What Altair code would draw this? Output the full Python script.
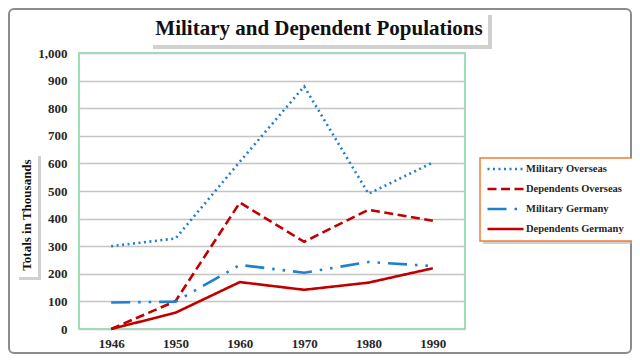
import altair as alt
import pandas as pd

years = ["1946", "1950", "1960", "1970", "1980", "1990"]
series_names = ["Military Overseas", "Dependents Overseas", "Military Germany", "Dependents Germany"]
military_overseas = [300, 328, 606, 879, 490, 603]
dependents_overseas = [0, 101, 458, 316, 432, 392]
military_germany = [96, 99, 232, 204, 243, 228]
dependents_germany = [0, 59, 170, 142, 168, 220]
series_values = [military_overseas, dependents_overseas, military_germany, dependents_germany]
series_colors = ["#1f7fd0", "#c00000", "#1f7fd0", "#c00000"]
series_dashes = [[2, 3.5], [9, 4.5], [19, 8, 2.5, 8, 2.5, 8], [1, 0]]

y_ticks = list(range(0, 1001, 100))

rows = []
for name, vals in zip(series_names, series_values):
    for yr, v in zip(years, vals):
        rows.append({"year": yr, "series": name, "value": v})
df = pd.DataFrame(rows)

FONT = "Liberation Serif"

legend_opts = dict(title=None, symbolType="stroke", symbolSize=1296,
                   symbolStrokeWidth=2.6, orient="none",
                   legendX=407, legendY=109, padding=0,
                   clipHeight=14, rowPadding=6, labelFont=FONT, labelFontSize=10.5,
                   labelFontWeight="bold", labelColor="#262626",
                   labelOffset=1)

lines = alt.Chart(df).mark_line(strokeWidth=2.6).encode(
    x=alt.X("year:O", sort=years, scale=alt.Scale(type="point", padding=0.5),
            axis=alt.Axis(title=None, labelAngle=0, ticks=False, domain=False,
                          labelPadding=8, labelFont=FONT, labelFontSize=13,
                          labelFontWeight="bold", labelColor="#262626")),
    y=alt.Y("value:Q", scale=alt.Scale(domain=[0, 1000], nice=False),
            axis=alt.Axis(title=None, values=y_ticks, format=",.0f", ticks=False, domain=False,
                          labelPadding=12, labelFont=FONT, labelFontSize=13,
                          labelFontWeight="bold", labelColor="#262626",
                          gridColor="#c4c4c4", gridWidth=1.6)),
    color=alt.Color("series:N", sort=series_names,
                    scale=alt.Scale(domain=series_names, range=series_colors),
                    legend=alt.Legend(**legend_opts)),
    strokeDash=alt.StrokeDash("series:N", sort=series_names,
                              scale=alt.Scale(domain=series_names, range=series_dashes),
                              legend=alt.Legend(**legend_opts)),
)

one = alt.Data(values=[{"k": 1}])

def box(x1, x2, y1, y2, **kw):
    return alt.Chart(one).mark_rect(**kw).encode(
        x=alt.value(x1), x2=alt.value(x2), y=alt.value(y1), y2=alt.value(y2))

outer = box(-70, 552, -44, 300, fill="white", fillOpacity=0, stroke="#8c8c8c",
            strokeWidth=2, cornerRadius=5)

title_shadow = box(74, 413, -38, -4, fill="#b0b0b0", opacity=0.6)
title_box = box(71, 409, -41, -8, fill="white")
title_text = alt.Chart(one).mark_text(font=FONT, fontSize=21, fontWeight="bold",
                                      color="#111111", baseline="middle", align="center").encode(
    x=alt.value(240), y=alt.value(-24), text=alt.value("Military and Dependent Populations"))

ytitle_shadow = box(-60, -38, 103, 227, fill="#b0b0b0", opacity=0.6)
ytitle_box = box(-63, -41, 100, 224, fill="white")
ytitle_text = alt.Chart(one).mark_text(font=FONT, fontSize=13, fontWeight="bold",
                                       color="#111111", baseline="middle", align="center",
                                       angle=270).encode(
    x=alt.value(-52), y=alt.value(162), text=alt.value("Totals in Thousands"))

legend_shadow = box(404, 557, 108, 191, fill="#b0b0b0", opacity=0.6)
legend_box = box(401, 554, 105, 188, fill="white", stroke="#ed7d31", strokeWidth=1.5)

chart = alt.layer(
    outer, title_shadow, title_box, title_text,
    ytitle_shadow, ytitle_box, ytitle_text, legend_shadow, legend_box, lines
).properties(
    width=386, height=276,
    autosize=alt.AutoSizeParams(type="none"),
    padding={"left": 71, "top": 45, "right": 167, "bottom": 25},
    background="white",
).configure_view(stroke="#82d9a5", strokeWidth=1.6)

chart.save("out.html", embed_options={"renderer": "svg", "actions": False})
